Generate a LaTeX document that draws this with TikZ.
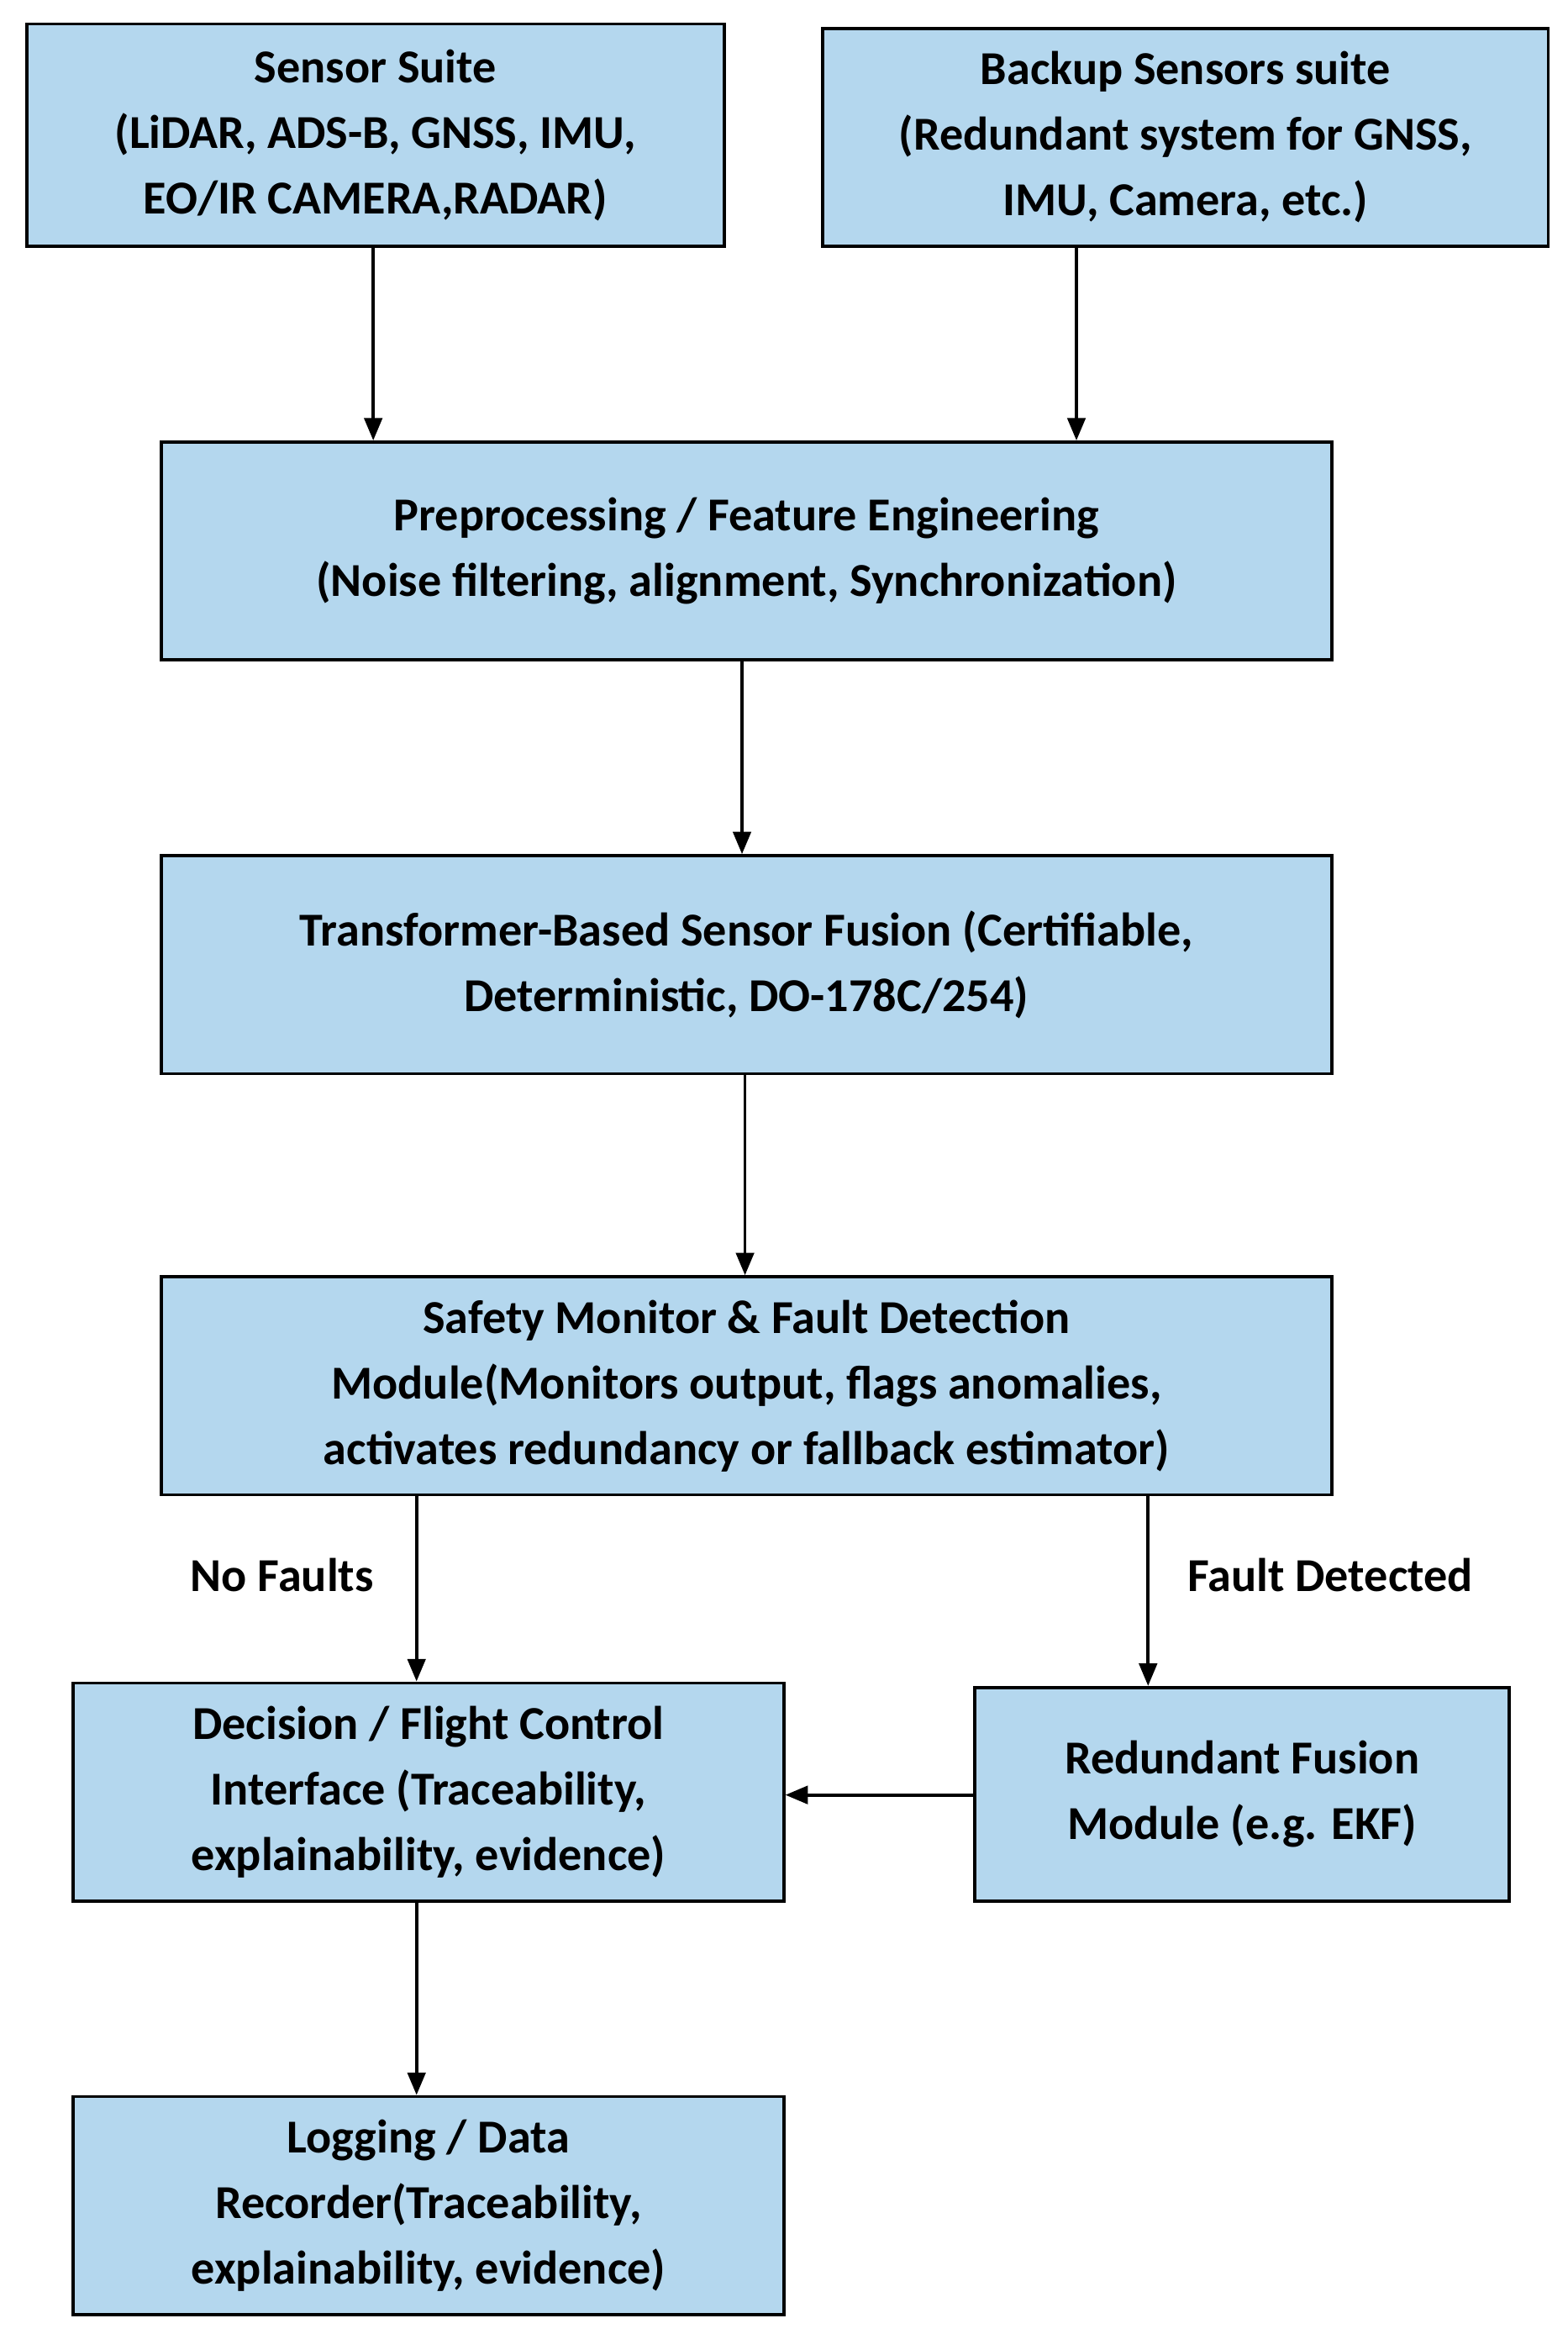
\documentclass[tikz,border=0pt]{standalone}
\usepackage{fontspec}
\setmainfont{Carlito}
\usetikzlibrary{arrows.meta}
\definecolor{boxblue}{HTML}{B4D7EE}
\begin{document}
\begin{tikzpicture}[x=0.02cm,y=-0.02cm,
  box/.style={draw=black,line width=1.2pt,fill=boxblue,align=center,inner sep=0pt,
    font=\fontsize{18}{25}\selectfont\bfseries},
  arr/.style={line width=1.2pt,-{Triangle[length=0.3cm,width=0.24cm]}},
  lab/.style={font=\fontsize{18}{25}\selectfont\bfseries}]
\useasboundingbox (0,0) rectangle (1050,1563);
\newcommand{\bx}[6]{\node[box,minimum width={(#4-#2)*0.02cm},minimum height={(#5-#3)*0.02cm}] (#1) at ({(#2+#4)/2},{(#3+#5)/2}) {#6};}
\bx{s}{18}{16}{485}{165}{Sensor Suite\\(LiDAR, ADS-B, GNSS, IMU,\\EO/IR CAMERA,RADAR)}
\bx{b}{551}{19}{1037}{165}{Backup Sensors suite\\(Redundant system for GNSS,\\IMU, Camera, etc.)}
\bx{p}{108}{296}{892}{442}{Preprocessing / Feature Engineering\\(Noise filtering, alignment, Synchronization)}
\bx{t}{108}{573}{892}{719}{Transformer-Based Sensor Fusion (Certifiable,\\Deterministic, DO-178C/254)}
\bx{m}{108}{855}{892}{1001}{Safety Monitor \& Fault Detection\\Module(Monitors output, flags anomalies,\\activates redundancy or fallback estimator)}
\bx{d}{49}{1127}{525}{1273}{Decision / Flight Control\\Interface (Traceability,\\explainability, evidence)}
\bx{r}{653}{1130}{1011}{1273}{Redundant Fusion\\Module (e.g. EKF)}
\bx{l}{49}{1404}{525}{1550}{Logging / Data\\Recorder(Traceability,\\explainability, evidence)}
\coordinate (xs) at (250,0);
\coordinate (xb) at (721,0);
\coordinate (xp) at (497,0);
\coordinate (xt) at (499,0);
\coordinate (xd) at (279,0);
\coordinate (xr) at (769,0);
\coordinate (yr) at (0,1202);
\draw[arr] (s.south -| xs) -- (p.north -| xs);
\draw[arr] (b.south -| xb) -- (p.north -| xb);
\draw[arr] (p.south -| xp) -- (t.north -| xp);
\draw[arr] (t.south -| xt) -- (m.north -| xt);
\draw[arr] (m.south -| xd) -- (d.north -| xd);
\draw[arr] (m.south -| xr) -- (r.north -| xr);
\draw[arr] (r.west |- yr) -- (d.east |- yr);
\draw[arr] (d.south -| xd) -- (l.north -| xd);
\node[lab] (nf) at (189,1055) {No Faults};
\node[lab] (fd) at (891,1055) {Fault Detected};
\end{tikzpicture}
\end{document}
